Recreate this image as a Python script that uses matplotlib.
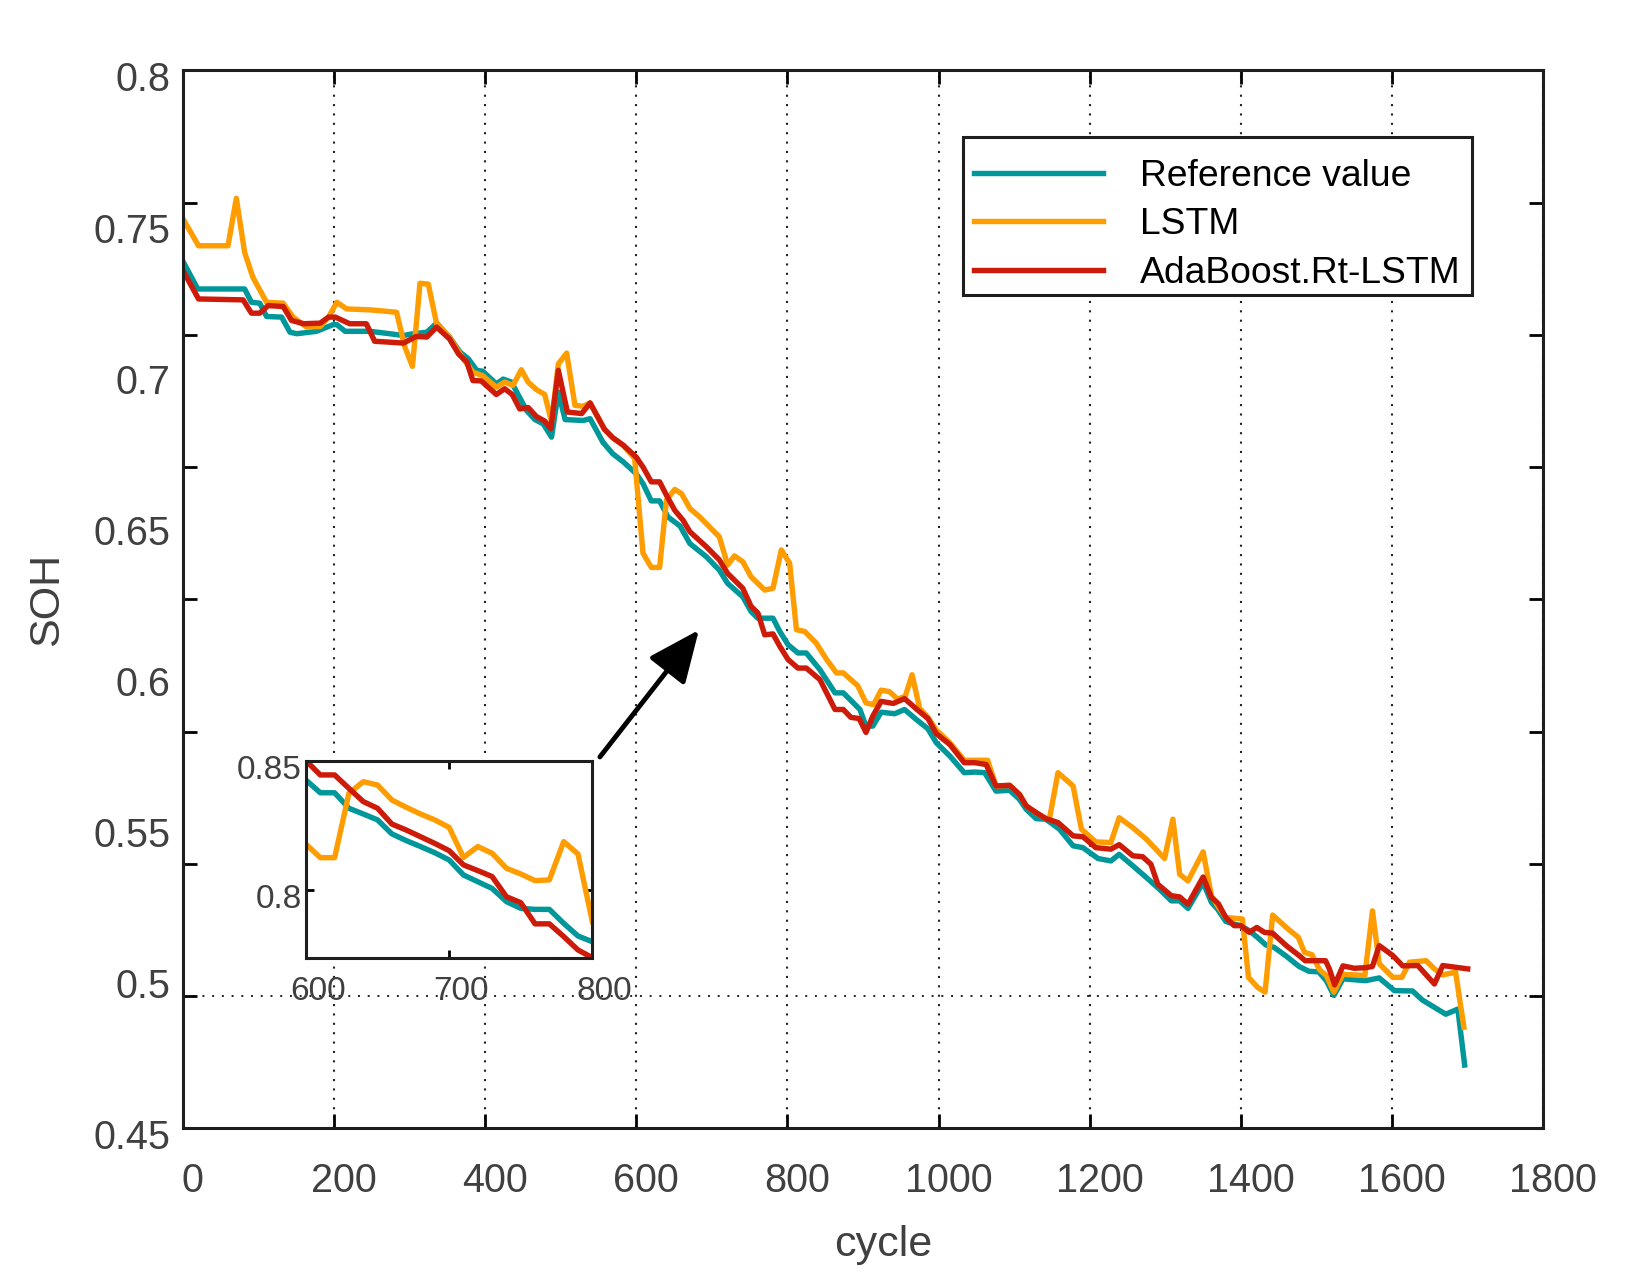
import matplotlib
matplotlib.use("Agg")
import matplotlib.pyplot as plt
import matplotlib.patches as mpatches
import matplotlib.transforms as mtransforms
import numpy as np

plt.rcParams['font.family'] = ['Liberation Sans', 'DejaVu Sans']

# ---- data ---------------------------------------------------------------
ref_cycle = [0, 20, 82, 91, 102, 111, 131, 142, 151, 177, 199, 204, 215, 248, 274, 292, 305, 323,
             336, 353, 367, 378, 389, 397, 415, 424, 435, 442, 455, 466, 477, 488, 497, 506, 530,
             539, 556, 569, 583, 600, 609, 620, 631, 642, 658, 671, 693, 710, 721, 741, 752, 761,
             781, 790, 801, 814, 825, 843, 863, 874, 882, 896, 904, 913, 924, 942, 955, 970, 986,
             997, 1015, 1034, 1048, 1061, 1076, 1094, 1107, 1116, 1129, 1142, 1160, 1178, 1191,
             1211, 1228, 1239, 1257, 1275, 1292, 1308, 1319, 1330, 1350, 1361, 1369, 1380, 1391,
             1400, 1411, 1422, 1433, 1444, 1460, 1477, 1490, 1503, 1513, 1523, 1535, 1550, 1565,
             1583, 1603, 1627, 1640, 1671, 1687, 1696]
ref_soh = [0.7370, 0.7277, 0.7277, 0.7233, 0.7230, 0.7186, 0.7184, 0.7134, 0.7129, 0.7137, 0.7159,
           0.7159, 0.7137, 0.7137, 0.7129, 0.7123, 0.7129, 0.7134, 0.7164, 0.7118, 0.7068, 0.7046,
           0.7008, 0.7005, 0.6963, 0.6979, 0.6969, 0.6936, 0.6875, 0.6845, 0.6831, 0.6787, 0.6936,
           0.6845, 0.6842, 0.6848, 0.6770, 0.6732, 0.6705, 0.6666, 0.6633, 0.6576, 0.6576, 0.6523,
           0.6493, 0.6435, 0.6391, 0.6347, 0.6303, 0.6259, 0.6210, 0.6188, 0.6188, 0.6144, 0.6100,
           0.6073, 0.6073, 0.6018, 0.5941, 0.5941, 0.5921, 0.5886, 0.5831, 0.5831, 0.5877, 0.5872,
           0.5886, 0.5854, 0.5822, 0.5776, 0.5732, 0.5677, 0.5679, 0.5677, 0.5616, 0.5619, 0.5589,
           0.5556, 0.5525, 0.5523, 0.5490, 0.5435, 0.5429, 0.5393, 0.5385, 0.5407, 0.5369, 0.5330,
           0.5292, 0.5253, 0.5253, 0.5228, 0.5314, 0.5248, 0.5226, 0.5185, 0.5176, 0.5171, 0.5154,
           0.5132, 0.5107, 0.5099, 0.5070, 0.5036, 0.5020, 0.5018, 0.4989, 0.4940, 0.4995, 0.4992,
           0.4989, 0.4998, 0.4956, 0.4955, 0.4925, 0.4878, 0.4895, 0.4710]

lstm_cycle = [0, 21, 60, 71, 82, 93, 111, 133, 146, 164, 182, 193, 204, 217, 248, 283, 294, 304,
              314, 325, 336, 353, 367, 384, 397, 415, 426, 437, 448, 457, 468, 479, 488, 497, 508,
              519, 530, 539, 558, 569, 583, 598, 609, 620, 631, 640, 651, 660, 671, 684, 697, 710,
              721, 730, 741, 752, 770, 781, 792, 803, 812, 823, 838, 852, 865, 874, 893, 904, 914,
              924, 935, 946, 956, 965, 975, 986, 997, 1015, 1034, 1048, 1065, 1076, 1094, 1107,
              1116, 1129, 1142, 1147, 1158, 1178, 1189, 1208, 1228, 1239, 1257, 1275, 1299, 1310,
              1319, 1330, 1350, 1361, 1369, 1380, 1402, 1410, 1422, 1432, 1442, 1460, 1476, 1484,
              1494, 1504, 1513, 1523, 1535, 1564, 1574, 1583, 1601, 1613, 1623, 1645, 1656, 1667,
              1684, 1695]
lstm_soh = [0.7511, 0.7420, 0.7420, 0.7577, 0.7398, 0.7315, 0.7233, 0.7230, 0.7184, 0.7151, 0.7153,
            0.7184, 0.7233, 0.7211, 0.7208, 0.7200, 0.7085, 0.7021, 0.7296, 0.7293, 0.7162, 0.7118,
            0.7062, 0.7002, 0.6990, 0.6952, 0.6969, 0.6958, 0.7010, 0.6969, 0.6944, 0.6928, 0.6837,
            0.7029, 0.7065, 0.6892, 0.6889, 0.6900, 0.6813, 0.6785, 0.6760, 0.6716, 0.6403, 0.6356,
            0.6356, 0.6579, 0.6614, 0.6600, 0.6551, 0.6523, 0.6490, 0.6457, 0.6364, 0.6394, 0.6375,
            0.6325, 0.6281, 0.6287, 0.6414, 0.6370, 0.6150, 0.6144, 0.6106, 0.6051, 0.6007, 0.6007,
            0.5965, 0.5908, 0.5902, 0.5950, 0.5945, 0.5920, 0.5930, 0.6001, 0.5890, 0.5860, 0.5818,
            0.5776, 0.5718, 0.5718, 0.5718, 0.5633, 0.5635, 0.5605, 0.5567, 0.5545, 0.5525, 0.5528,
            0.5677, 0.5633, 0.5490, 0.5448, 0.5446, 0.5528, 0.5495, 0.5457, 0.5393, 0.5523, 0.5341,
            0.5319, 0.5415, 0.5270, 0.5237, 0.5198, 0.5193, 0.5000, 0.4967, 0.4951, 0.5206, 0.5165,
            0.5132, 0.5083, 0.5075, 0.5025, 0.5006, 0.4951, 0.5010, 0.5006, 0.5220, 0.5045, 0.5000,
            0.5000, 0.5050, 0.5055, 0.5028, 0.5008, 0.5017, 0.4835]

ada_cycle = [0, 21, 80, 91, 102, 113, 133, 144, 160, 182, 193, 202, 221, 243, 254, 274, 292, 309,
             323, 336, 353, 365, 376, 384, 395, 415, 426, 436, 446, 457, 468, 479, 487, 497, 509,
             528, 539, 558, 569, 583, 600, 609, 620, 631, 640, 651, 662, 671, 693, 710, 721, 741,
             752, 761, 770, 781, 790, 801, 814, 825, 843, 863, 874, 884, 895, 904, 913, 924, 940,
             955, 972, 986, 997, 1015, 1034, 1048, 1063, 1076, 1094, 1107, 1116, 1129, 1142, 1158,
             1178, 1191, 1208, 1228, 1239, 1257, 1270, 1281, 1290, 1308, 1319, 1330, 1350, 1361,
             1370, 1380, 1391, 1400, 1411, 1421, 1431, 1442, 1460, 1477, 1485, 1512, 1517, 1524,
             1535, 1550, 1565, 1574, 1583, 1601, 1614, 1634, 1656, 1667, 1700]
ada_soh = [0.7340, 0.7244, 0.7241, 0.7197, 0.7197, 0.7222, 0.7219, 0.7173, 0.7162, 0.7164, 0.7184,
           0.7184, 0.7162, 0.7162, 0.7104, 0.7101, 0.7098, 0.7120, 0.7118, 0.7151, 0.7112, 0.7062,
           0.7035, 0.6974, 0.6973, 0.6928, 0.6947, 0.6928, 0.6880, 0.6885, 0.6855, 0.6840, 0.6815,
           0.7008, 0.6870, 0.6865, 0.6900, 0.6813, 0.6785, 0.6760, 0.6721, 0.6688, 0.6639, 0.6639,
           0.6595, 0.6545, 0.6512, 0.6474, 0.6424, 0.6381, 0.6336, 0.6287, 0.6227, 0.6205, 0.6133,
           0.6136, 0.6095, 0.6051, 0.6023, 0.6023, 0.5985, 0.5886, 0.5886, 0.5860, 0.5856, 0.5810,
           0.5864, 0.5913, 0.5906, 0.5922, 0.5885, 0.5856, 0.5806, 0.5770, 0.5710, 0.5710, 0.5704,
           0.5633, 0.5635, 0.5605, 0.5567, 0.5545, 0.5525, 0.5512, 0.5468, 0.5465, 0.5429, 0.5424,
           0.5439, 0.5402, 0.5399, 0.5374, 0.5308, 0.5270, 0.5266, 0.5242, 0.5332, 0.5264, 0.5244,
           0.5198, 0.5171, 0.5171, 0.5149, 0.5165, 0.5149, 0.5146, 0.5105, 0.5072, 0.5055, 0.5055,
           0.5028, 0.4975, 0.5038, 0.5030, 0.5032, 0.5036, 0.5105, 0.5072, 0.5038, 0.5039, 0.4978,
           0.5039, 0.5028]

# zoomed panel (its own scale, as printed in the figure)
zoom_cycle = [600, 610, 620, 630, 640, 650, 660, 670, 680, 690, 700, 710, 720, 730, 740, 750, 760,
              770, 780, 790, 800]
zoom_ref = [0.8425, 0.8376, 0.8376, 0.8316, 0.8294, 0.8271, 0.8217, 0.8191, 0.8168, 0.8144, 0.8116,
            0.8058, 0.8032, 0.8006, 0.7955, 0.7929, 0.7925, 0.7925, 0.7871, 0.7822, 0.7800]
zoom_lstm = [0.8177, 0.8125, 0.8125, 0.8374, 0.8419, 0.8406, 0.8348, 0.8320, 0.8294, 0.8271, 0.8242,
             0.8126, 0.8168, 0.8142, 0.8084, 0.8062, 0.8036, 0.8039, 0.8187, 0.8139, 0.7878]
zoom_ada = [0.8500, 0.8445, 0.8445, 0.8393, 0.8342, 0.8316, 0.8255, 0.8232, 0.8206, 0.8180, 0.8152,
            0.8097, 0.8075, 0.8052, 0.7974, 0.7951, 0.7869, 0.7869, 0.7820, 0.7768, 0.7738]

series_names = ['Reference value', 'LSTM', 'AdaBoost.Rt-LSTM']
x_ticks = [0, 200, 400, 600, 800, 1000, 1200, 1400, 1600, 1800]
y_ticks = [0.45, 0.5, 0.55, 0.6, 0.65, 0.7, 0.75, 0.8]
y_tick_labels = ['0.45', '0.5', '0.55', '0.6', '0.65', '0.7', '0.75', '0.8']
eol_line = 0.49375
zoom_x_ticks = [600, 700, 800]
zoom_y_ticks = [0.8, 0.85]
zoom_y_labels = ['0.8', '0.85']

# ---- style ---------------------------------------------------------------
c_ref = '#00979b'
c_lstm = '#ff9d00'
c_ada = '#cd1b0a'
txt_gray = '#404040'
lw = 3.9

fig = plt.figure(figsize=(16.25, 12.85), dpi=100)
px = 1 / fig.dpi

ax = fig.add_axes([0.1124, 0.1218, 0.8373, 0.8234])
ax.plot(ref_cycle, ref_soh, color=c_ref, lw=lw, label=series_names[0])
ax.plot(lstm_cycle, lstm_soh, color=c_lstm, lw=lw, label=series_names[1])
ax.plot(ada_cycle, ada_soh, color=c_ada, lw=lw, label=series_names[2])

ax.set_xlim(0, 1800)
ax.set_ylim(0.45, 0.8)
ax.set_xticks(x_ticks)
ax.set_yticks(y_ticks, y_tick_labels)
# tick marks on the y axis sit on 8 equal steps, the labels on 7
ax.set_yticks(np.linspace(0.45, 0.8, 9), minor=True)
ax.tick_params(axis='y', which='major', length=0, labelsize=28.5, labelcolor=txt_gray, pad=9)
ax.tick_params(axis='y', which='minor', direction='in', length=10, width=2,
               left=True, right=True)
ax.tick_params(axis='x', which='major', direction='in', length=10, width=2, top=True,
               labelsize=28.5, labelcolor=txt_gray, pad=24)
for lab in ax.get_yticklabels():
    lab.set_transform(lab.get_transform() + mtransforms.ScaledTranslation(0, -6 * px, fig.dpi_scale_trans))
for lab in ax.get_xticklabels():
    lab.set_transform(lab.get_transform() + mtransforms.ScaledTranslation(10 * px, 0, fig.dpi_scale_trans))

for s in ax.spines.values():
    s.set_linewidth(2.2)
    s.set_color('#1e1e1e')

ax.xaxis.grid(True, linestyle=(0, (1, 3.5)), color='#222222', lw=1.5)
ax.axhline(eol_line, linestyle=(0, (1, 4)), color='#222222', lw=1.4, zorder=1)

fig.text(883 / 1625, 1 - 1245 / 1285, 'cycle', ha='center', va='center', fontsize=31, color=txt_gray)
fig.text(47 / 1625, 1 - 599 / 1285, 'SOH', ha='center', va='center', rotation=90,
         fontsize=31, color=txt_gray)

# legend box drawn on its own so the padding matches, entries placed inside it
box = mpatches.Rectangle((963 / 1625, 1 - 295 / 1285), (1472 - 963) / 1625, 158 / 1285,
                         transform=fig.transFigure, facecolor='white', edgecolor='#1e1e1e',
                         lw=2.2, zorder=4)
ax.add_patch(box)
leg = ax.legend(loc='upper left', bbox_to_anchor=(974 / 1625, 1 - 159 / 1285),
                bbox_transform=fig.transFigure, frameon=False, fontsize=26.8,
                handlelength=3.47, handletextpad=0.98, labelspacing=0.36,
                borderpad=0, borderaxespad=0)
leg.set_zorder(5)

# arrow pointing at the zoomed region
ax.annotate('', xy=(683, 0.6149), xytext=(552, 0.5729),
            arrowprops=dict(arrowstyle='-|>,head_length=0.8,head_width=0.35', lw=3.5,
                            color='black', mutation_scale=40, shrinkA=0, shrinkB=0))

# ---- inset ---------------------------------------------------------------
axin = fig.add_axes([0.1883, 0.2547, 0.1762, 0.1533])
axin.plot(zoom_cycle, zoom_ref, color=c_ref, lw=lw)
axin.plot(zoom_cycle, zoom_lstm, color=c_lstm, lw=lw)
axin.plot(zoom_cycle, zoom_ada, color=c_ada, lw=lw)
axin.set_xlim(600, 800)
axin.set_ylim(0.7738, 0.85)
axin.set_xticks(zoom_x_ticks)
axin.set_yticks(zoom_y_ticks, zoom_y_labels)
axin.tick_params(direction='in', length=6, width=2, top=True, right=True,
                 labelsize=24, labelcolor=txt_gray)
axin.tick_params(axis='x', pad=13)
axin.tick_params(axis='y', pad=3)
for lab in axin.get_yticklabels():
    lab.set_transform(lab.get_transform() + mtransforms.ScaledTranslation(0, -6 * px, fig.dpi_scale_trans))
for lab in axin.get_xticklabels():
    lab.set_transform(lab.get_transform() + mtransforms.ScaledTranslation(12 * px, 0, fig.dpi_scale_trans))
for s in axin.spines.values():
    s.set_linewidth(2.2)
    s.set_color('#1e1e1e')

fig.savefig('out.png', dpi=100)
plt.close(fig)
